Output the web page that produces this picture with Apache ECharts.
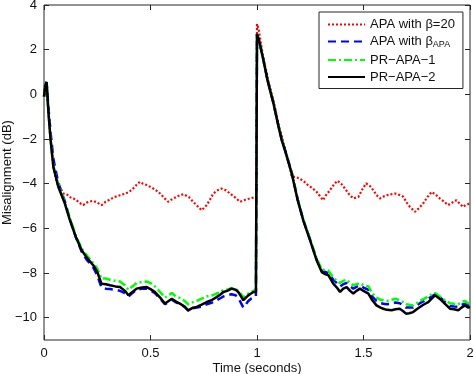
<!DOCTYPE html>
<html>
<head>
<meta charset="utf-8">
<script src="https://cdn.jsdelivr.net/npm/echarts@6/dist/echarts.min.js"></script>
<style>html,body{margin:0;padding:0;background:#fff}#c{width:474px;height:374px}</style>
</head>
<body>
<div id="c"></div>
<script>
// Shared time grid (seconds) for APA-beta_APA, PR-APA-1, PR-APA-2
const timeA = [0.000,0.006,0.012,0.016,0.020,0.031,0.044,0.067,0.098,0.122,0.150,0.177,0.200,0.231,0.250,0.270,0.290,0.310,0.335,0.357,0.380,0.396,0.415,0.435,0.460,0.482,0.500,0.521,0.545,0.568,0.585,0.600,0.620,0.638,0.660,0.677,0.700,0.717,0.740,0.764,0.790,0.810,0.830,0.842,0.860,0.880,0.900,0.912,0.925,0.936,0.948,0.959,0.972,0.983,0.995,
1.000,1.010,1.030,1.050,1.077,1.100,1.116,1.131,1.163,1.190,1.217,1.249,1.280,1.304,1.320,1.335,1.358,1.375,1.390,1.405,1.421,1.437,1.452,1.467,1.483,1.500,1.523,1.540,1.561,1.580,1.593,1.610,1.632,1.650,1.670,1.685,1.700,1.715,1.733,1.750,1.765,1.785,1.804,1.820,1.836,1.850,1.866,1.885,1.906,1.925,1.945,1.960,1.977,1.990,2.000];

const prApa2 = [-0.10,0.40,0.55,0.00,-0.70,-2.05,-3.25,-4.14,-4.89,-5.64,-6.40,-6.98,-7.30,-7.65,-7.95,-8.48,-8.50,-8.55,-8.60,-8.63,-8.80,-9.00,-8.85,-8.70,-8.65,-8.63,-8.72,-8.85,-9.10,-9.37,-9.25,-9.15,-9.28,-9.37,-9.50,-9.67,-9.55,-9.52,-9.42,-9.30,-9.20,-9.08,-8.95,-8.85,-8.80,-8.70,-8.75,-8.85,-9.05,-9.22,-9.10,-9.00,-8.92,-8.85,-8.85,
2.70,2.40,1.54,0.60,-0.40,-1.40,-2.05,-2.50,-3.54,-4.70,-5.64,-6.53,-7.43,-7.96,-8.05,-8.10,-8.48,-8.65,-8.85,-8.70,-8.63,-8.80,-8.92,-8.80,-8.70,-8.80,-8.92,-9.20,-9.45,-9.55,-9.60,-9.65,-9.67,-9.62,-9.60,-9.70,-9.82,-9.80,-9.75,-9.62,-9.52,-9.40,-9.30,-9.15,-9.00,-9.10,-9.22,-9.40,-9.60,-9.62,-9.67,-9.55,-9.45,-9.55,-9.52];

const prApa1 = [-0.10,0.40,0.55,0.00,-0.70,-2.00,-3.20,-4.05,-4.85,-5.55,-6.35,-6.90,-7.20,-7.55,-7.80,-8.25,-8.25,-8.30,-8.35,-8.38,-8.55,-8.75,-8.60,-8.45,-8.40,-8.38,-8.45,-8.60,-8.85,-9.10,-9.00,-8.90,-9.05,-9.12,-9.25,-9.40,-9.30,-9.25,-9.15,-9.05,-9.00,-8.92,-8.85,-8.75,-8.75,-8.68,-8.72,-8.80,-8.95,-9.10,-9.00,-8.92,-8.85,-8.80,-8.80,
2.70,2.40,1.55,0.62,-0.38,-1.38,-2.02,-2.47,-3.50,-4.65,-5.60,-6.48,-7.35,-7.85,-7.85,-7.90,-8.20,-8.35,-8.45,-8.35,-8.30,-8.45,-8.55,-8.50,-8.45,-8.55,-8.60,-8.90,-9.10,-9.20,-9.22,-9.25,-9.20,-9.15,-9.22,-9.30,-9.40,-9.42,-9.45,-9.35,-9.25,-9.15,-9.05,-8.95,-8.90,-9.00,-9.10,-9.25,-9.35,-9.38,-9.40,-9.30,-9.25,-9.35,-9.35];

const apaBetaApa = [-0.10,0.40,0.55,0.05,-0.50,-1.70,-2.90,-3.95,-4.80,-5.60,-6.40,-7.05,-7.40,-7.75,-8.10,-8.65,-8.70,-8.72,-8.75,-8.80,-8.90,-9.05,-8.90,-8.75,-8.70,-8.70,-8.78,-8.90,-9.15,-9.40,-9.30,-9.20,-9.32,-9.40,-9.52,-9.68,-9.58,-9.55,-9.50,-9.40,-9.32,-9.22,-9.12,-9.05,-9.00,-8.95,-9.00,-9.10,-9.35,-9.55,-9.40,-9.25,-9.15,-9.10,-9.05,
2.70,2.40,1.55,0.62,-0.38,-1.38,-2.02,-2.47,-3.50,-4.67,-5.62,-6.50,-7.40,-7.90,-7.95,-8.00,-8.30,-8.45,-8.60,-8.50,-8.45,-8.60,-8.70,-8.62,-8.55,-8.65,-8.75,-9.05,-9.25,-9.35,-9.38,-9.40,-9.38,-9.32,-9.35,-9.45,-9.55,-9.55,-9.55,-9.45,-9.35,-9.25,-9.15,-9.05,-8.95,-9.05,-9.15,-9.32,-9.48,-9.50,-9.52,-9.42,-9.38,-9.45,-9.42];

// APA with beta = 20
const timeR = [0.000,0.012,0.020,0.031,0.044,0.060,0.070,0.083,0.091,0.110,0.125,0.138,0.150,0.165,0.184,0.200,0.215,0.230,0.250,0.270,0.290,0.310,0.330,0.357,0.380,0.400,0.420,0.435,0.450,0.465,0.480,0.498,0.520,0.545,0.565,0.583,0.607,0.630,0.654,0.680,0.700,0.720,0.740,0.764,0.780,0.795,0.815,0.834,0.855,0.873,0.895,0.920,0.945,0.967,0.985,0.998,
1.000,1.008,1.030,1.055,1.080,1.105,1.131,1.150,1.163,1.180,1.200,1.220,1.240,1.260,1.280,1.295,1.310,1.325,1.343,1.360,1.377,1.395,1.413,1.430,1.452,1.476,1.495,1.512,1.530,1.546,1.560,1.577,1.593,1.609,1.628,1.648,1.668,1.687,1.703,1.718,1.742,1.760,1.780,1.800,1.820,1.840,1.858,1.878,1.897,1.916,1.936,1.950,1.967,1.980,2.000];
const apaBeta20 = [-0.10,0.55,-0.70,-2.05,-3.25,-3.95,-4.15,-4.30,-4.44,-4.50,-4.62,-4.66,-4.72,-4.85,-4.96,-4.85,-4.80,-4.77,-4.85,-4.96,-4.80,-4.71,-4.60,-4.52,-4.45,-4.37,-4.20,-4.05,-3.92,-4.00,-4.05,-4.14,-4.25,-4.44,-4.65,-4.81,-4.66,-4.55,-4.47,-4.60,-4.81,-5.00,-5.19,-4.96,-4.70,-4.44,-4.30,-4.22,-4.30,-4.44,-4.60,-4.81,-4.72,-4.66,-4.62,-4.59,
3.15,2.90,1.60,0.55,-0.40,-1.50,-2.40,-3.10,-3.69,-3.70,-3.77,-3.90,-4.07,-4.20,-4.37,-4.55,-4.74,-4.50,-4.29,-4.05,-3.87,-4.00,-4.22,-4.45,-4.66,-4.59,-4.25,-3.99,-4.10,-4.29,-4.50,-4.66,-4.58,-4.52,-4.48,-4.44,-4.50,-4.59,-4.85,-5.04,-5.26,-5.10,-4.89,-4.60,-4.37,-4.50,-4.66,-4.80,-4.96,-4.85,-4.74,-4.88,-5.04,-4.95,-4.89];

const xTicks = [0, 0.5, 1, 1.5, 2];
const yTicks = [-10, -8, -6, -4, -2, 0, 2, 4];
const seriesNames = ['APA with β=20', 'APA with βAPA', 'PR\u2212APA\u22121', 'PR\u2212APA\u22122'];

const pair = (ts, vs) => ts.map((t, i) => [t, vs[i]]);
const FONT = '"Liberation Sans", Arial, Helvetica, sans-serif';
const AX = '#262626';
const fmtNum = v => String(v).replace('-', '\u2212');

const chart = echarts.init(document.getElementById('c'), null, {renderer: 'canvas'});
const baseX = {
  type: 'value', min: 0, max: 2, interval: 0.5,
  axisLine: {show: false, onZero: false}, splitLine: {show: false},
  axisTick: {show: true, inside: true, length: 5, lineStyle: {color: AX}, customValues: xTicks}
};
const baseY = {
  type: 'value', min: -11, max: 4,
  axisLine: {show: false, onZero: false}, splitLine: {show: false},
  axisTick: {show: true, inside: true, length: 5, lineStyle: {color: AX}, customValues: yTicks}
};
chart.setOption({
  animation: false,
  backgroundColor: '#fff',
  grid: {left: 44, right: 4, top: 5, bottom: 34, containLabel: false, outerBoundsMode: 'none',
         show: true, borderColor: AX, borderWidth: 1, backgroundColor: 'transparent'},
  xAxis: [
    Object.assign({}, baseX, {
      position: 'bottom',
      name: 'Time (seconds)', nameLocation: 'middle', nameGap: 22, nameMoveOverlap: false,
      nameTextStyle: {fontFamily: FONT, fontSize: 13, color: '#111'},
      axisLabel: {show: true, margin: 7, fontFamily: FONT, fontSize: 13, color: '#111', customValues: xTicks, formatter: fmtNum}
    }),
    Object.assign({}, baseX, {position: 'top', axisLabel: {show: false}})
  ],
  yAxis: [
    Object.assign({}, baseY, {
      position: 'left',
      name: 'Misalignment (dB)', nameLocation: 'middle', nameGap: 30, nameMoveOverlap: false,
      nameTextStyle: {fontFamily: FONT, fontSize: 13, color: '#111'},
      axisLabel: {show: true, margin: 7, fontFamily: FONT, fontSize: 13, color: '#111', customValues: yTicks, formatter: fmtNum}
    }),
    Object.assign({}, baseY, {position: 'right', axisLabel: {show: false}})
  ],
  legend: {
    show: true, orient: 'vertical', left: 319, top: 12,
    padding: [6, 8, 5, 8], itemGap: 4, itemWidth: 37, itemHeight: 13,
    backgroundColor: '#fff', borderColor: AX, borderWidth: 1, borderRadius: 0,
    data: seriesNames,
    itemStyle: {color: 'rgba(0,0,0,0)', borderWidth: 0, opacity: 0},
    formatter: function (n) { return n === 'APA with βAPA' ? 'APA with β{sub|APA}' : n; },
    textStyle: {fontFamily: FONT, fontSize: 13, color: '#111', rich: {sub: {fontFamily: FONT, fontSize: 9, color: '#111', padding: [7, 0, 0, 0]}}}
  },
  series: [
    {name: seriesNames[0], type: 'line', data: pair(timeR, apaBeta20), showSymbol: false, symbol: 'none', z: 2,
     lineStyle: {color: '#ff0000', width: 2.2, type: [2, 2]}, itemStyle: {color: '#ff0000'}},
    {name: seriesNames[1], type: 'line', data: pair(timeA, apaBetaApa), showSymbol: false, symbol: 'none', z: 3,
     lineStyle: {color: '#0000ff', width: 2.5, type: [8, 5]}, itemStyle: {color: '#0000ff'}},
    {name: seriesNames[2], type: 'line', data: pair(timeA, prApa1), showSymbol: false, symbol: 'none', z: 4,
     lineStyle: {color: '#00ff00', width: 2.5, type: [8, 3, 2, 3]}, itemStyle: {color: '#00ff00'}},
    {name: seriesNames[3], type: 'line', data: pair(timeA, prApa2), showSymbol: false, symbol: 'none', z: 5,
     lineStyle: {color: '#000000', width: 2.5, type: 'solid'}, itemStyle: {color: '#000000'}}
  ]
});
</script>
</body>
</html>
